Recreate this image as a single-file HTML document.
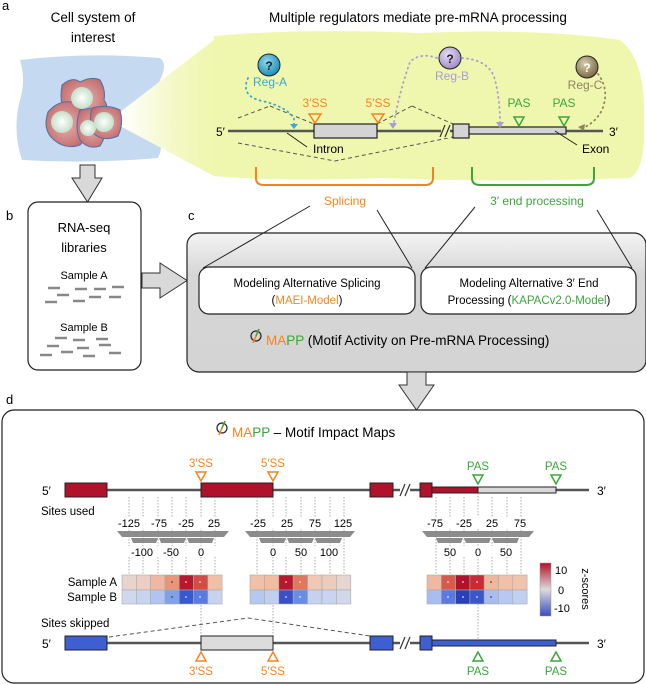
<!DOCTYPE html>
<html><head><meta charset="utf-8"><style>
html,body{margin:0;padding:0;background:#fff}
svg{display:block;font-family:"Liberation Sans",sans-serif}
</style></head><body>
<svg width="646" height="685" viewBox="0 0 646 685" xmlns="http://www.w3.org/2000/svg">
<defs>
<radialGradient id="nuc" cx="50%" cy="50%" r="50%"><stop offset="0" stop-color="#ffffff"/><stop offset="1" stop-color="#c4e0c8"/></radialGradient>
<radialGradient id="cellg" cx="50%" cy="50%" r="60%"><stop offset="0" stop-color="#e8b0b0"/><stop offset="1" stop-color="#c06868"/></radialGradient>
<linearGradient id="cone" x1="0" x2="1" y1="0" y2="0"><stop offset="0" stop-color="#ffffff"/><stop offset="0.6" stop-color="#f3f8c4"/><stop offset="1" stop-color="#eff7ae"/></linearGradient>
<linearGradient id="cbox" x1="0" x2="0" y1="0" y2="1"><stop offset="0" stop-color="#f4f4f4"/><stop offset="0.3" stop-color="#d6d6d6"/><stop offset="1" stop-color="#d4d4d4"/></linearGradient>
<linearGradient id="cbar" x1="0" x2="0" y1="0" y2="1"><stop offset="0" stop-color="#b40f2a"/><stop offset="0.5" stop-color="#dcdcdc"/><stop offset="1" stop-color="#3b4cc0"/></linearGradient>
<radialGradient id="rA" cx="40%" cy="35%" r="65%"><stop offset="0" stop-color="#8fd8ee"/><stop offset="1" stop-color="#1f8fb8"/></radialGradient>
<radialGradient id="rB" cx="40%" cy="35%" r="65%"><stop offset="0" stop-color="#e6dcf4"/><stop offset="1" stop-color="#a08cc8"/></radialGradient>
<radialGradient id="rC" cx="40%" cy="35%" r="65%"><stop offset="0" stop-color="#d8ceb0"/><stop offset="1" stop-color="#7a6c44"/></radialGradient>
</defs>

<!-- Panel a -->
<text x="2" y="10" font-size="13">a</text>
<text x="93" y="22" font-size="13.5" text-anchor="middle">Cell system of</text>
<text x="93" y="42" font-size="13.5" text-anchor="middle">interest</text>
<text x="418" y="22" font-size="13.5" text-anchor="middle">Multiple regulators mediate pre-mRNA processing</text>

<path d="M20,60 Q90,52 160,58 Q168,64 160,80 Q156,90 162,100 Q166,140 158,158 Q90,164 22,160 Q12,130 20,100 Q26,80 20,60Z" fill="#c5d9f1"/>
<path d="M214,36 Q300,28 420,33 Q540,28 620,40 Q646,60 644,120 Q646,170 630,178 Q500,183 380,178 Q280,182 214,176 Z" fill="#eff7ae"/>
<path d="M120,112 L214,40 L214,176 L120,126 Z" fill="url(#cone)"/>

<!-- cells -->
<g stroke="#5070a8" stroke-width="1">
<path d="M62,85 Q72,76 80,82 Q92,76 100,80 Q106,90 104,100 Q110,108 104,118 Q90,122 70,118 Q58,108 62,85Z" fill="url(#cellg)"/>
<path d="M48,112 Q58,100 72,102 Q84,108 82,122 Q90,135 80,145 Q66,150 54,140 Q42,130 48,112Z" fill="url(#cellg)"/>
<path d="M80,110 Q96,106 106,114 Q110,130 100,146 Q88,150 80,140 Q74,126 80,110Z" fill="url(#cellg)"/>
<path d="M92,108 Q108,104 120,110 Q124,124 118,136 Q104,142 94,134 Q88,120 92,108Z" fill="url(#cellg)"/>
</g>
<g fill="url(#nuc)">
<circle cx="82" cy="98" r="11"/><circle cx="62" cy="122" r="11"/><circle cx="88" cy="128" r="8"/><circle cx="104" cy="122" r="10"/>
</g>

<!-- arrow down from cell -->
<path d="M80,165 H95 V178 H102 L87.5,202 L72,178 H80 Z" fill="#d9d9d9" stroke="#333" stroke-width="1"/>

<!-- gene a -->
<line x1="228" y1="131" x2="603" y2="131" stroke="#555" stroke-width="2.5"/>
<text x="216" y="136" font-size="12">5′</text>
<text x="609" y="136" font-size="12">3′</text>
<line x1="238" y1="118" x2="270" y2="106" stroke="#555" stroke-dasharray="4,3"/>
<line x1="270" y1="106" x2="314" y2="124" stroke="#555" stroke-dasharray="4,3"/>
<line x1="377" y1="124" x2="412" y2="106" stroke="#555" stroke-dasharray="4,3"/>
<line x1="412" y1="106" x2="453" y2="124" stroke="#555" stroke-dasharray="4,3"/>
<polyline points="238,143 335,161 453,137" fill="none" stroke="#555" stroke-dasharray="4,3"/>
<rect x="314" y="124" width="63" height="14" fill="#d4d4d4" stroke="#222" stroke-width="1.2"/>
<rect x="441" y="124" width="9" height="14" fill="#eff7ae"/>
<line x1="440" y1="137" x2="445" y2="125" stroke="#333" stroke-width="1.2"/><line x1="445" y1="137" x2="450" y2="125" stroke="#333" stroke-width="1.2"/>
<rect x="453" y="124" width="16" height="14" fill="#d4d4d4" stroke="#222" stroke-width="1.2"/>
<rect x="469" y="127" width="97" height="7" fill="#d4d4d4" stroke="#222" stroke-width="1.2"/>
<g fill="none" stroke="#f5841f" stroke-width="1.5"><path d="M309,114 H321 L315,123 Z"/><path d="M372,114 H384 L378,123 Z"/></g>
<g fill="none" stroke="#3aa63a" stroke-width="1.5"><path d="M514,117 H524 L519,126 Z"/><path d="M559,117 H569 L564,126 Z"/></g>
<text x="315" y="107" font-size="12" fill="#f5841f" text-anchor="middle">3′SS</text>
<text x="378" y="107" font-size="12" fill="#f5841f" text-anchor="middle">5′SS</text>
<text x="519" y="107" font-size="12" fill="#3aa63a" text-anchor="middle">PAS</text>
<text x="564" y="107" font-size="12" fill="#3aa63a" text-anchor="middle">PAS</text>
<line x1="287" y1="133" x2="307" y2="147" stroke="#222"/>
<text x="313" y="153" font-size="12">Intron</text>
<line x1="555" y1="131" x2="577" y2="145" stroke="#222"/>
<text x="582" y="153" font-size="12">Exon</text>

<!-- regulators -->
<circle cx="269" cy="65" r="11" fill="url(#rA)" stroke="#222"/><text x="269" y="70" font-size="12" font-weight="bold" text-anchor="middle" fill="#222">?</text>
<circle cx="450" cy="58" r="11" fill="url(#rB)" stroke="#222"/><text x="450" y="63" font-size="12" font-weight="bold" text-anchor="middle" fill="#222">?</text>
<circle cx="587" cy="67" r="11" fill="url(#rC)" stroke="#222"/><text x="587" y="72" font-size="12" font-weight="bold" text-anchor="middle" fill="#fff">?</text>
<text x="270" y="86" font-size="12" fill="#3aa8cf" text-anchor="middle">Reg-A</text>
<text x="452" y="80" font-size="12" fill="#ab9dd3" text-anchor="middle">Reg-B</text>
<text x="585" y="89" font-size="12" fill="#8f8360" text-anchor="middle">Reg-C</text>
<path d="M248,78 Q240,96 262,101 Q285,106 294,118 L294,126" fill="none" stroke="#3aa8cf" stroke-width="1.8" stroke-dasharray="1,4" stroke-linecap="round"/>
<path d="M290,124 L294,129 L298,124Z" fill="#3aa8cf"/>
<path d="M437,58 Q420,52 410,62 Q400,90 394,122" fill="none" stroke="#ab9dd3" stroke-width="1.8" stroke-dasharray="1,4" stroke-linecap="round"/>
<path d="M389,123 L393,129 L397,123Z" fill="#ab9dd3"/>
<path d="M462,58 Q490,60 495,80 Q500,100 500,122" fill="none" stroke="#ab9dd3" stroke-width="1.8" stroke-dasharray="1,4" stroke-linecap="round"/>
<path d="M496,122 L500,128 L504,122Z" fill="#ab9dd3"/>
<path d="M598,74 Q610,90 602,110 Q596,122 583,128" fill="none" stroke="#8f8360" stroke-width="1.8" stroke-dasharray="1,4" stroke-linecap="round"/>
<path d="M578,127 L584,131 L585,124Z" fill="#8f8360"/>

<!-- brackets -->
<path d="M256,167 V178 Q256,185 264,185 H425 Q433,185 433,178 V167" fill="none" stroke="#f5841f" stroke-width="2"/>
<path d="M472,167 V178 Q472,185 480,185 H586 Q594,185 594,178 V167" fill="none" stroke="#3aa63a" stroke-width="2"/>
<text x="345" y="205" font-size="12" fill="#f5841f" text-anchor="middle">Splicing</text>
<text x="537" y="205" font-size="12" fill="#3aa63a" text-anchor="middle">3′ end processing</text>

<!-- panel b -->
<text x="6" y="220" font-size="13">b</text>
<rect x="28" y="202" width="113" height="168" rx="10" fill="#fff" stroke="#222" stroke-width="1.2"/>
<text x="84" y="232" font-size="13" text-anchor="middle">RNA-seq</text>
<text x="84" y="252" font-size="13" text-anchor="middle">libraries</text>
<text x="84" y="279" font-size="11" text-anchor="middle">Sample A</text>
<text x="84" y="331" font-size="11" text-anchor="middle">Sample B</text>
<g stroke="#888" stroke-width="2.5">
<line x1="48" y1="288" x2="60" y2="288"/><line x1="75" y1="289" x2="87" y2="289"/><line x1="94" y1="289" x2="106" y2="289"/><line x1="112" y1="287" x2="124" y2="287"/>
<line x1="57" y1="295" x2="69" y2="295"/><line x1="89" y1="297" x2="101" y2="297"/><line x1="109" y1="297" x2="121" y2="297"/>
<line x1="45" y1="302" x2="57" y2="302"/><line x1="73" y1="301" x2="85" y2="301"/>
<line x1="55" y1="338" x2="67" y2="338"/><line x1="73" y1="340" x2="85" y2="340"/><line x1="96" y1="339" x2="108" y2="339"/>
<line x1="47" y1="346" x2="59" y2="346"/><line x1="77" y1="348" x2="89" y2="348"/><line x1="99" y1="345" x2="111" y2="345"/>
<line x1="40" y1="355" x2="52" y2="355"/><line x1="61" y1="352" x2="73" y2="352"/><line x1="83" y1="356" x2="95" y2="356"/><line x1="109" y1="353" x2="121" y2="353"/>
</g>
<path d="M142,273 H160 V263 L187,280.5 L160,298 V288 H142 Z" fill="#d9d9d9" stroke="#333" stroke-width="1"/>

<!-- panel c -->
<text x="188" y="220" font-size="13">c</text>
<rect x="187" y="233" width="459" height="139" rx="12" fill="url(#cbox)" stroke="#222" stroke-width="1.2"/>
<line x1="310" y1="206" x2="203" y2="268" stroke="#222"/>
<line x1="377" y1="210" x2="412" y2="268" stroke="#222"/>
<line x1="475" y1="207" x2="425" y2="268" stroke="#222"/>
<line x1="597" y1="210" x2="632" y2="268" stroke="#222"/>
<rect x="199" y="267" width="216" height="47" rx="10" fill="#fff" stroke="#222" stroke-width="1.2"/>
<rect x="421" y="267" width="215" height="47" rx="10" fill="#fff" stroke="#222" stroke-width="1.2"/>
<text x="307" y="287" font-size="11.5" text-anchor="middle">Modeling Alternative Splicing</text>
<text x="307" y="304" font-size="11.5" text-anchor="middle">(<tspan fill="#f5841f">MAEI-Model</tspan>)</text>
<text x="529" y="287" font-size="11.5" text-anchor="middle">Modeling Alternative 3′ End</text>
<text x="529" y="304" font-size="11.5" text-anchor="middle">Processing (<tspan fill="#3aa63a">KAPACv2.0-Model</tspan>)</text>
<g transform="translate(256,340)"><circle cx="0" cy="-4" r="5" fill="none" stroke="#222" stroke-width="1.2"/><line x1="-3" y1="3" x2="3" y2="-11" stroke="#f5841f" stroke-width="1.5"/><line x1="0" y1="-4" x2="3" y2="-11" stroke="#3aa63a" stroke-width="1.5"/></g>
<text x="266" y="345" font-size="13.5"><tspan fill="#f5841f">MA</tspan><tspan fill="#3aa63a">PP</tspan> (Motif Activity on Pre-mRNA Processing)</text>
<path d="M407,372 H426 V385 H434 L416.5,410 L399,385 H407 Z" fill="#d9d9d9" stroke="#333" stroke-width="1"/>

<!-- panel d -->
<text x="6" y="404" font-size="13">d</text>
<rect x="2" y="410" width="642" height="273" rx="12" fill="#fff" stroke="#222" stroke-width="1.2"/>
<g transform="translate(222,432)"><circle cx="0" cy="-4" r="5" fill="none" stroke="#222" stroke-width="1.2"/><line x1="-3" y1="3" x2="3" y2="-11" stroke="#f5841f" stroke-width="1.5"/><line x1="0" y1="-4" x2="3" y2="-11" stroke="#3aa63a" stroke-width="1.5"/></g>
<text x="232" y="437" font-size="13.5"><tspan fill="#f5841f">MA</tspan><tspan fill="#3aa63a">PP</tspan> – Motif Impact Maps</text>

<!-- gene row 1 -->
<line x1="66" y1="490" x2="589" y2="490" stroke="#555" stroke-width="2.5"/>
<text x="42" y="495" font-size="12">5′</text><text x="597" y="495" font-size="12">3′</text>
<rect x="65" y="483" width="42" height="14" fill="#b0112b" stroke="#222"/>
<rect x="201" y="483" width="72" height="14" fill="#b0112b" stroke="#222"/>
<rect x="370" y="483" width="23" height="14" fill="#b0112b" stroke="#222"/>
<rect x="400" y="483" width="10" height="14" fill="#fff"/>
<line x1="400" y1="496" x2="405" y2="484" stroke="#333" stroke-width="1.2"/><line x1="405" y1="496" x2="410" y2="484" stroke="#333" stroke-width="1.2"/>
<rect x="420" y="483" width="12" height="14" fill="#b0112b" stroke="#222"/>
<rect x="432" y="487" width="46" height="6" fill="#b0112b" stroke="#222"/>
<rect x="478" y="487" width="78" height="6" fill="#d9d9d9" stroke="#222"/>
<g fill="none" stroke="#f5841f" stroke-width="1.5"><path d="M196,472 H206 L201,481 Z"/><path d="M268,472 H278 L273,481 Z"/></g>
<g fill="none" stroke="#3aa63a" stroke-width="1.5"><path d="M473,475 H483 L478,484 Z"/><path d="M551,475 H561 L556,484 Z"/></g>
<text x="201" y="467" font-size="11.5" fill="#f5841f" text-anchor="middle">3′SS</text>
<text x="273" y="467" font-size="11.5" fill="#f5841f" text-anchor="middle">5′SS</text>
<text x="478" y="470" font-size="11.5" fill="#3aa63a" text-anchor="middle">PAS</text>
<text x="556" y="470" font-size="11.5" fill="#3aa63a" text-anchor="middle">PAS</text>
<text x="41" y="515" font-size="11.5">Sites used</text>

<!-- dotted verticals -->
<g stroke="#888" stroke-width="0.7" stroke-dasharray="1.5,1.5">
<line x1="129" y1="497" x2="129" y2="575"/><line x1="143" y1="497" x2="143" y2="575"/><line x1="158" y1="497" x2="158" y2="575"/><line x1="172" y1="497" x2="172" y2="575"/><line x1="186" y1="497" x2="186" y2="575"/><line x1="201" y1="497" x2="201" y2="636"/><line x1="215" y1="497" x2="215" y2="575"/>
<line x1="257" y1="497" x2="257" y2="575"/><line x1="273" y1="497" x2="273" y2="636"/><line x1="286" y1="497" x2="286" y2="575"/><line x1="301" y1="497" x2="301" y2="575"/><line x1="315" y1="497" x2="315" y2="575"/><line x1="330" y1="497" x2="330" y2="575"/><line x1="344" y1="497" x2="344" y2="575"/>
<line x1="436" y1="497" x2="436" y2="575"/><line x1="450" y1="497" x2="450" y2="575"/><line x1="464" y1="497" x2="464" y2="575"/><line x1="478" y1="493" x2="478" y2="641"/><line x1="492" y1="497" x2="492" y2="575"/><line x1="507" y1="497" x2="507" y2="575"/><line x1="521" y1="497" x2="521" y2="575"/>
</g>
<!-- numbers row 1 -->
<g font-size="11" text-anchor="middle">
<rect x="120" y="517" width="104" height="11" fill="#fff"/><rect x="248" y="517" width="104" height="11" fill="#fff"/><rect x="426" y="517" width="104" height="11" fill="#fff"/>
<text x="129" y="527">-125</text><text x="159" y="527">-75</text><text x="186" y="527">-25</text><text x="214" y="527">25</text>
<text x="258" y="527">-25</text><text x="287" y="527">25</text><text x="315" y="527">75</text><text x="343" y="527">125</text>
<text x="435" y="527">-75</text><text x="464" y="527">-25</text><text x="492" y="527">25</text><text x="520" y="527">75</text>
<rect x="128" y="546" width="95" height="11" fill="#fff"/><rect x="260" y="546" width="82" height="11" fill="#fff"/><rect x="440" y="546" width="76" height="11" fill="#fff"/>
<text x="142" y="556">-100</text><text x="171" y="556">-50</text><text x="201" y="556">0</text>
<text x="273" y="556">0</text><text x="301" y="556">50</text><text x="329" y="556">100</text>
<text x="450" y="556">50</text><text x="478" y="556">0</text><text x="506" y="556">50</text>
</g>
<!-- trapezoids -->
<g fill="#8c8c8c">
<path d="M117,531 H229 L224,537 H122 Z"/><path d="M245,531 H355 L350,537 H250 Z"/><path d="M422,531 H534 L529,537 H427 Z"/>
<path d="M131,538 H158 L156,543 H133 Z"/><path d="M159,538 H186 L184,543 H161 Z"/><path d="M187,538 H214 L212,543 H189 Z"/>
<path d="M259,538 H286 L284,543 H261 Z"/><path d="M287,538 H314 L312,543 H289 Z"/><path d="M315,538 H342 L340,543 H317 Z"/>
<path d="M436,538 H463 L461,543 H438 Z"/><path d="M464,538 H491 L489,543 H466 Z"/><path d="M492,538 H519 L517,543 H494 Z"/>
</g>

<!-- heatmaps -->
<text x="117" y="586" font-size="11.5" text-anchor="end">Sample A</text>
<text x="117" y="601" font-size="11.5" text-anchor="end">Sample B</text>
<g stroke="#aaa" stroke-width="0.6">
<rect x="122" y="575" width="14.3" height="15" fill="#e8d4cc"/><rect x="136.3" y="575" width="14.3" height="15" fill="#ebcfc4"/><rect x="150.6" y="575" width="14.3" height="15" fill="#f0b8a0"/><rect x="164.9" y="575" width="14.3" height="15" fill="#e8957a"/><rect x="179.2" y="575" width="14.3" height="15" fill="#b8182e"/><rect x="193.5" y="575" width="14.3" height="15" fill="#d34c48"/><rect x="207.8" y="575" width="14.3" height="15" fill="#f0c0a8"/>
<rect x="122" y="590" width="14.3" height="14" fill="#cfd8ee"/><rect x="136.3" y="590" width="14.3" height="14" fill="#c8d4ee"/><rect x="150.6" y="590" width="14.3" height="14" fill="#b0c4f0"/><rect x="164.9" y="590" width="14.3" height="14" fill="#7fa0ec"/><rect x="179.2" y="590" width="14.3" height="14" fill="#3858d0"/><rect x="193.5" y="590" width="14.3" height="14" fill="#5a7ce0"/><rect x="207.8" y="590" width="14.3" height="14" fill="#c8d4ee"/>
<rect x="250" y="575" width="14.4" height="15" fill="#f2c0a8"/><rect x="264.4" y="575" width="14.4" height="15" fill="#f2bca0"/><rect x="278.8" y="575" width="14.4" height="15" fill="#b8182e"/><rect x="293.2" y="575" width="14.4" height="15" fill="#e07860"/><rect x="307.6" y="575" width="14.4" height="15" fill="#f0c8b4"/><rect x="322" y="575" width="14.4" height="15" fill="#ecccbc"/><rect x="336.4" y="575" width="14.4" height="15" fill="#e6d6cf"/>
<rect x="250" y="590" width="14.4" height="14" fill="#b6c8f0"/><rect x="264.4" y="590" width="14.4" height="14" fill="#c0cff0"/><rect x="278.8" y="590" width="14.4" height="14" fill="#3a50c8"/><rect x="293.2" y="590" width="14.4" height="14" fill="#6a8ce6"/><rect x="307.6" y="590" width="14.4" height="14" fill="#c4d2f0"/><rect x="322" y="590" width="14.4" height="14" fill="#c8d4f0"/><rect x="336.4" y="590" width="14.4" height="14" fill="#d2d8e8"/>
<rect x="427" y="575" width="14.3" height="15" fill="#f0b8a0"/><rect x="441.3" y="575" width="14.3" height="15" fill="#d85a4c"/><rect x="455.6" y="575" width="14.3" height="15" fill="#b0112b"/><rect x="469.9" y="575" width="14.3" height="15" fill="#c82a36"/><rect x="484.2" y="575" width="14.3" height="15" fill="#eeb89c"/><rect x="498.5" y="575" width="14.3" height="15" fill="#f0c0a8"/><rect x="512.8" y="575" width="14.3" height="15" fill="#f0c4ac"/>
<rect x="427" y="590" width="14.3" height="14" fill="#a8bef0"/><rect x="441.3" y="590" width="14.3" height="14" fill="#5a7ae0"/><rect x="455.6" y="590" width="14.3" height="14" fill="#2a40b8"/><rect x="469.9" y="590" width="14.3" height="14" fill="#3a56c8"/><rect x="484.2" y="590" width="14.3" height="14" fill="#a8bcf0"/><rect x="498.5" y="590" width="14.3" height="14" fill="#b8c8f0"/><rect x="512.8" y="590" width="14.3" height="14" fill="#c0d0f0"/>
</g>
<g fill="#fff" opacity="0.8">
<circle cx="186" cy="582" r="0.9"/><circle cx="200" cy="582" r="0.9"/><circle cx="186" cy="597" r="0.9"/><circle cx="200" cy="597" r="0.9"/>
<circle cx="286" cy="582" r="0.9"/><circle cx="300" cy="582" r="0.9"/><circle cx="286" cy="597" r="0.9"/><circle cx="300" cy="597" r="0.9"/>
<circle cx="448" cy="582" r="0.9"/><circle cx="463" cy="582" r="0.9"/><circle cx="477" cy="582" r="0.9"/><circle cx="448" cy="597" r="0.9"/><circle cx="463" cy="597" r="0.9"/><circle cx="477" cy="597" r="0.9"/>
</g>
<g fill="#444"><circle cx="172" cy="582" r="0.9"/><circle cx="172" cy="597" r="0.9"/><circle cx="491" cy="582" r="0.9"/><circle cx="491" cy="597" r="0.9"/></g>
<rect x="540" y="563" width="11" height="53" fill="url(#cbar)" stroke="#999" stroke-width="0.5"/>
<text x="555" y="574" font-size="11">10</text>
<text x="558" y="594" font-size="11">0</text>
<text x="554" y="612" font-size="11">-10</text>
<text x="0" y="0" font-size="11" transform="translate(582,589) rotate(90)" text-anchor="middle">z-scores</text>

<!-- sites skipped -->
<text x="41" y="627" font-size="11.5">Sites skipped</text>
<polyline points="109,637 248,618 370,636" fill="none" stroke="#555" stroke-dasharray="4,3"/>
<line x1="66" y1="643" x2="589" y2="643" stroke="#555" stroke-width="2.5"/>
<text x="42" y="648" font-size="12">5′</text><text x="597" y="648" font-size="12">3′</text>
<rect x="65" y="636" width="42" height="14" fill="#3e5fd0" stroke="#222"/>
<rect x="201" y="636" width="72" height="14" fill="#dcdcdc" stroke="#222"/>
<rect x="370" y="636" width="23" height="14" fill="#3e5fd0" stroke="#222"/>
<rect x="400" y="636" width="10" height="14" fill="#fff"/>
<line x1="400" y1="649" x2="405" y2="637" stroke="#333" stroke-width="1.2"/><line x1="405" y1="649" x2="410" y2="637" stroke="#333" stroke-width="1.2"/>
<rect x="420" y="636" width="12" height="14" fill="#3e5fd0" stroke="#222"/>
<rect x="432" y="640" width="124" height="6" fill="#3e5fd0" stroke="#222"/>
<g fill="none" stroke="#f5841f" stroke-width="1.5"><path d="M196,661 H206 L201,652 Z"/><path d="M268,661 H278 L273,652 Z"/></g>
<g fill="none" stroke="#3aa63a" stroke-width="1.5"><path d="M473,661 H483 L478,652 Z"/><path d="M551,661 H561 L556,652 Z"/></g>
<text x="201" y="675" font-size="11.5" fill="#f5841f" text-anchor="middle">3′SS</text>
<text x="273" y="675" font-size="11.5" fill="#f5841f" text-anchor="middle">5′SS</text>
<text x="478" y="675" font-size="11.5" fill="#3aa63a" text-anchor="middle">PAS</text>
<text x="556" y="675" font-size="11.5" fill="#3aa63a" text-anchor="middle">PAS</text>
</svg>
</body></html>
